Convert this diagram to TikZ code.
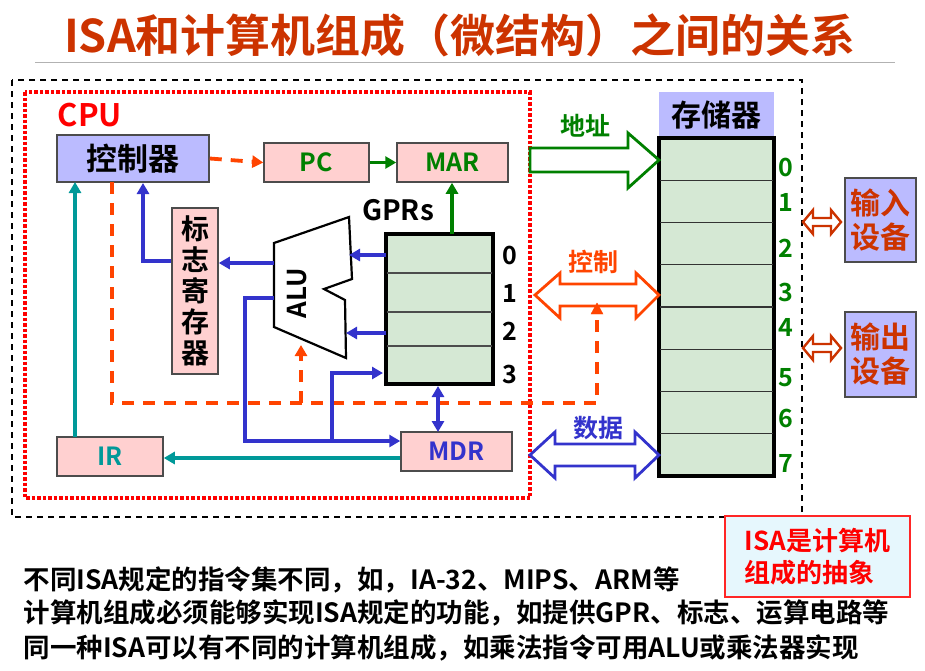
\documentclass[tikz,border=0pt]{standalone}
\usepackage{fontspec}
\setmainfont{Noto Sans CJK SC}[BoldFont={* Bold}]
\usetikzlibrary{arrows.meta}
\definecolor{tred}{HTML}{CC3300}
\definecolor{ctl}{HTML}{BBBBFF}
\definecolor{pk}{HTML}{FFD0D0}
\definecolor{gr}{HTML}{D5E8D4}
\definecolor{dg}{HTML}{008000}
\definecolor{bl}{HTML}{3333CC}
\definecolor{tl}{HTML}{009999}
\definecolor{og}{HTML}{FF4400}
\tikzset{
 box/.style={draw=black!70,line width=1.5pt,inner sep=0},
 lab/.style={font=\bfseries\fontsize{25}{27}\selectfont},
 bar/.style={line width=3.5pt,-{Triangle[length=11pt,width=12pt]}},
 dsh/.style={draw=og,line width=3.8pt,dash pattern=on 12pt off 9pt,-{Triangle[length=11pt,width=12pt]}},
}
\begin{document}
\begin{tikzpicture}[x=1pt,y=-1pt]
\useasboundingbox (0,0) rectangle (925,670);
\node[text=tred,font=\bfseries\fontsize{45}{48}\selectfont] (title) at (460,35) {ISA和计算机组成（微结构）之间的关系};
\draw[gray!60] (35,62) -- (895,62);
\draw[line width=1.5pt,dash pattern=on 6pt off 5pt] (12,80) rectangle (802,517);
\draw[red,line width=3.5pt,dotted] (25,92) rectangle (530,498);
\node[text=red,font=\bfseries\fontsize{31}{33}\selectfont] (cpu) at (90,115) {CPU};
\node[box,fill=ctl,minimum width=152pt,minimum height=47pt,font=\bfseries\fontsize{31}{33}\selectfont] (ctrl) at (133,158.5) {控制器};
\node[box,fill=pk,minimum width=105pt,minimum height=39pt,lab,text=dg] (pc) at (316.5,162.5) {PC};
\node[box,fill=pk,minimum width=111pt,minimum height=39pt,lab,text=dg] (mar) at (452.5,162.5) {MAR};
\node[box,fill=pk,minimum width=46pt,minimum height=166pt,font=\bfseries\fontsize{28}{31}\selectfont,align=center] (flag) at (195,291) {标\\志\\寄\\存\\器};
\draw[line width=2.2pt,fill=white] (274,243) -- (349,217) -- (352,279) -- (324,289) -- (345,300) -- (346,358) -- (274,327) -- cycle;
\node[rotate=90,font=\bfseries\fontsize{26}{28}\selectfont] (alu) at (297,293) {ALU};
\node[draw,line width=3.5pt,fill=gr,minimum width=107pt,minimum height=150pt,inner sep=0] (gpr) at (439.5,309) {};
\foreach \y in {273,312,346} \draw[black!70,line width=1.2pt] (387,\y) -- (492,\y);
\node[font=\bfseries\fontsize{28}{30}\selectfont] (gprl) at (398,210) {GPRs};
\foreach \t/\y in {0/255,1/293,2/331,3/374} \node[lab] (g\t) at (510,\y) {\t};
\node[box,fill=pk,minimum width=111pt,minimum height=39pt,lab,text=bl] (mdr) at (456.5,451.5) {MDR};
\node[box,fill=pk,minimum width=106pt,minimum height=39pt,lab,text=tl] (ir) at (110,456.5) {IR};
\node[fill=ctl,minimum width=115pt,minimum height=46pt,inner sep=0,font=\bfseries\fontsize{30}{32}\selectfont] (memh) at (716.5,115) {存储器};
\node[draw,line width=3.5pt,fill=gr,minimum width=115pt,minimum height=338pt,inner sep=0] (mem) at (716.5,307) {};
\foreach \i in {1,...,7} \draw[black!80,line width=1.2pt] (660,138+\i*42.25) -- (773,138+\i*42.25);
\foreach \t/\y in {0/167,1/202,2/248,3/292,4/327,5/378,6/418,7/463} \node[lab,text=dg] (m\t) at (786,\y) {\t};
\node[box,fill=ctl,minimum width=71pt,minimum height=84pt,align=center,text=tred,font=\bfseries\fontsize{30}{34}\selectfont] (inp) at (880.5,220) {输入\\设备};
\node[box,fill=ctl,minimum width=71pt,minimum height=85pt,align=center,text=tred,font=\bfseries\fontsize{30}{34}\selectfont] (outp) at (880.5,354.5) {输出\\设备};
\draw[dg,line width=2.8pt,fill=white] (530,148) -- (628,148) -- (628,133) -- (659,160) -- (628,188) -- (628,172) -- (530,172) -- cycle;
\node[lab,text=dg] (addr) at (585,126) {地址};
\draw[og,line width=2.8pt,fill=white] (535,295) -- (560,273) -- (560,284) -- (636,284) -- (636,273) -- (659,295) -- (636,318) -- (636,306) -- (560,306) -- (560,318) -- cycle;
\node[lab,text=og] (ctlab) at (593,262) {控制};
\draw[bl,line width=2.8pt,fill=white] (530,455) -- (555,432) -- (555,444) -- (635,444) -- (635,432) -- (659,455) -- (635,478) -- (635,466) -- (555,466) -- (555,478) -- cycle;
\node[lab,text=bl] (data) at (598,428) {数据};
\foreach \y in {222,348}
 \draw[tred,line width=2.4pt,fill=white] (803,\y) -- (813,\y-12) -- (813,\y-4) -- (831,\y-4) -- (831,\y-12) -- (841,\y) -- (831,\y+12) -- (831,\y+4) -- (813,\y+4) -- (813,\y+12) -- cycle;
\draw[dsh] (ctrl.east) -- (pc.west);
\draw[dsh,-] (112,182) -- (112,403) -- (597,403) -- (597,312);
\draw[og,fill=og] (591,314) -- (597,303) -- (603,314) -- cycle;
\draw[dsh] (301,403) -- (301,345);
\draw[bar,dg] (pc) -- (mar);
\draw[bar,dg] (452,234) -- (mar.south -| 452,0);
\draw[bar,bl] (flag.west |- 0,261) -- (143,261) -- (143,183);
\draw[bar,bl] (274,263) -- (flag.east |- 0,263);
\draw[bar,bl] (386,255) -- (349,255);
\draw[bar,bl] (386,333) -- (346,333);
\draw[bar,bl] (274,298) -- (245,298) -- (245,441) -- (mdr.west |- 0,441);
\draw[bar,bl] (332,441) -- (332,373) -- (383,373);
\draw[bar,bl,{Triangle[length=11pt,width=12pt]}-{Triangle[length=11pt,width=12pt]}] (438,386) -- (438,432);
\draw[bar,tl] (mdr.west |- 0,458) -- (ir.east |- 0,458);
\draw[bar,tl] (75,437) -- (75,182);
\node[draw=red!85,line width=2.5pt,fill=cyan!10,minimum width=185pt,minimum height=81pt,align=left,text=red,font=\bfseries\fontsize{26}{32}\selectfont] (isa) at (817.5,556.5) {ISA是计算机\\组成的抽象};
\node[anchor=west,font=\bfseries\fontsize{26.5}{28}\selectfont] (t1) at (20,580) {不同ISA规定的指令集不同，如，IA-32、MIPS、ARM等};
\node[anchor=west,font=\bfseries\fontsize{26.5}{28}\selectfont] (t2) at (20,613) {计算机组成必须能够实现ISA规定的功能，如提供GPR、标志、运算电路等};
\node[anchor=west,font=\bfseries\fontsize{26.5}{28}\selectfont] (t3) at (20,648) {同一种ISA可以有不同的计算机组成，如乘法指令可用ALU或乘法器实现};
\end{tikzpicture}
\end{document}
